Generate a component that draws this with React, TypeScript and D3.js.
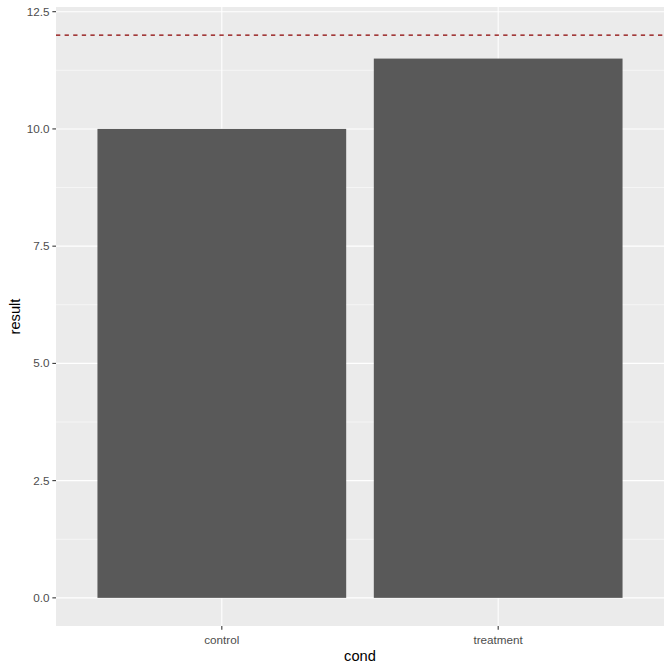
import React from "react";
import * as d3 from "d3";

const categories = ["control", "treatment"];
const results = [10, 11.5];
const refLine = 12;
const yTicks = [0, 2.5, 5, 7.5, 10, 12.5];
const yMinor = [1.25, 3.75, 6.25, 8.75, 11.25];

const W = 672;
const H = 671;
const margin = { left: 56, right: 8, top: 7, bottom: 45 };

export default function App() {
  const pl = margin.left;
  const pr = W - margin.right;
  const pt = margin.top;
  const pb = H - margin.bottom;

  // ggplot expand: continuous 5%, discrete 0.6 units
  const ymin = 0;
  const yDataMax = Math.max(d3.max(results)!, refLine);
  const span = yDataMax - ymin;
  const y = d3.scaleLinear().domain([ymin - 0.05 * span, yDataMax + 0.05 * span]).range([pb, pt]);
  const x = d3.scaleLinear().domain([0.4, categories.length + 0.6]).range([pl, pr]);
  const bw = x(0.9) - x(0);

  const font = "'Liberation Sans', Arial, sans-serif";

  return (
    <svg width={W} height={H} style={{ position: "absolute", left: 0, top: 0 }} fontFamily={font}>
      <rect x={0} y={0} width={W} height={H} fill="#fff" />
      <rect x={pl} y={pt} width={pr - pl} height={pb - pt} fill="#EBEBEB" />
      {yMinor.map((v) => (
        <line key={"m" + v} x1={pl} x2={pr} y1={y(v)} y2={y(v)} stroke="#fff" strokeWidth={0.53} />
      ))}
      {yTicks.map((v) => (
        <line key={"g" + v} x1={pl} x2={pr} y1={y(v)} y2={y(v)} stroke="#fff" strokeWidth={1.07} />
      ))}
      {categories.map((c, i) => (
        <line key={"gx" + c} x1={x(i + 1)} x2={x(i + 1)} y1={pt} y2={pb} stroke="#fff" strokeWidth={1.07} />
      ))}
      {categories.map((c, i) => (
        <rect
          key={"b" + c}
          x={x(i + 1) - bw / 2}
          width={bw}
          y={y(results[i])}
          height={y(0) - y(results[i])}
          fill="#595959"
        />
      ))}
      <line
        x1={pl}
        x2={pr}
        y1={y(refLine)}
        y2={y(refLine)}
        stroke="#8B0000"
        strokeWidth={1.07}
        strokeDasharray="4.3 4.3"
      />
      {yTicks.map((v) => (
        <g key={"t" + v}>
          <line x1={pl - 3.65} x2={pl} y1={y(v)} y2={y(v)} stroke="#333" strokeWidth={1.07} />
          <text
            x={pl - 3.65 - 2.9}
            y={y(v)}
            dy="0.35em"
            textAnchor="end"
            fontSize={11.7}
            fill="#4D4D4D"
          >
            {d3.format(".1f")(v)}
          </text>
        </g>
      ))}
      {categories.map((c, i) => (
        <g key={"xt" + c}>
          <line x1={x(i + 1)} x2={x(i + 1)} y1={pb} y2={pb + 3.65} stroke="#333" strokeWidth={1.07} />
          <text x={x(i + 1)} y={pb + 18} textAnchor="middle" fontSize={11.7} fill="#4D4D4D">
            {c}
          </text>
        </g>
      ))}
      <text x={(pl + pr) / 2} y={H - 10} textAnchor="middle" fontSize={14.67} fill="#000">
        cond
      </text>
      <text
        transform={`translate(${20},${(pt + pb) / 2}) rotate(-90)`}
        textAnchor="middle"
        fontSize={14.67}
        fill="#000"
      >
        result
      </text>
    </svg>
  );
}
